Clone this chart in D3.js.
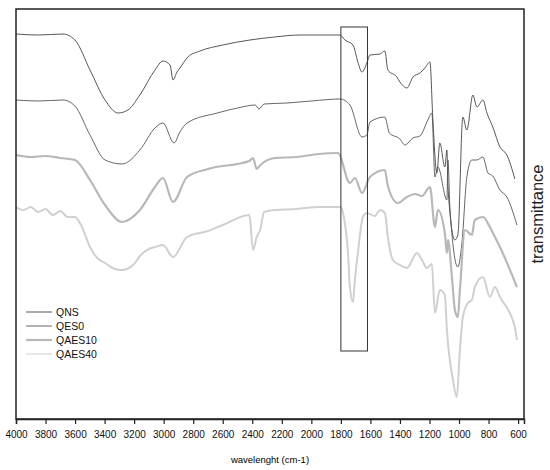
<!DOCTYPE html>
<html><head><meta charset="utf-8">
<script src="https://cdn.jsdelivr.net/npm/d3@7"></script>
<style>body{margin:0;background:#fff}svg{font-family:"Liberation Sans",Arial,sans-serif}</style>
</head><body><svg id="c" width="550" height="470"></svg>
<script>
// wavenumber (cm-1), transmittance (arbitrary units, offset spectra)
const seriesNames = ["QNS","QES0","QAES10","QAES40"];
const xTicks = d3.range(4000, 599, -200);
const qns = [[4000,385],[3850,384],[3682,385],[3601,379],[3499,349],[3397,319],[3309,306],[3242,309],[3161,324],[3059,349],[3005,358],[2957,354],[2937,339],[2910,347],[2890,351],[2836,362],[2754,368],[2600,374],[2416,379],[2250,382],[2077,384],[1950,384],[1806,384],[1773,379],[1718,374],[1685,357],[1657,347],[1624,356],[1603,364],[1536,365],[1502,368],[1482,349],[1421,342],[1400,337],[1353,331],[1312,342],[1265,346],[1231,351],[1197,357],[1177,299],[1150,246],[1130,276],[1096,252],[1082,269],[1075,232],[1028,179],[1008,184],[974,302],[947,289],[906,324],[879,312],[838,319],[811,306],[771,292],[723,272],[676,264],[622,240]];
const qes0 = [[4000,319],[3850,318],[3682,319],[3601,313],[3499,284],[3397,259],[3282,255],[3161,269],[3059,291],[3005,296],[2930,276],[2890,287],[2842,296],[2637,306],[2500,311],[2380,314],[2355,310],[2320,315],[2165,316],[2000,318],[1806,320],[1739,314],[1657,282],[1624,284],[1603,297],[1502,302],[1472,286],[1400,280],[1367,274],[1312,281],[1265,283],[1211,299],[1184,306],[1163,242],[1143,252],[1082,219],[1075,259],[1062,212],[1008,152],[981,175],[947,242],[913,259],[879,259],[838,262],[804,246],[771,243],[723,229],[676,222],[608,194]];
const qaes10 = [[4000,264],[3900,262],[3800,263],[3700,261],[3601,259],[3499,239],[3397,214],[3282,197],[3161,209],[3059,232],[3005,241],[2937,217],[2842,242],[2700,250],[2420,258],[2395,261],[2370,250],[2345,254],[2247,261],[2100,262],[1950,265],[1820,266],[1739,236],[1705,241],[1657,226],[1603,242],[1502,249],[1482,233],[1414,216],[1353,222],[1299,225],[1251,223],[1197,232],[1163,192],[1143,209],[1096,186],[1082,166],[1075,179],[1048,142],[1028,109],[1008,102],[994,129],[960,189],[913,184],[893,199],[838,202],[791,192],[757,182],[723,172],[608,132]];
const qaes40 = [[4000,212],[3950,209],[3900,212],[3850,207],[3800,210],[3750,204],[3700,208],[3650,202],[3601,202],[3560,194],[3499,172],[3450,161],[3397,156],[3330,150],[3282,149],[3200,155],[3161,163],[3100,170],[3059,172],[3005,174],[2937,162],[2842,182],[2700,188],[2600,194],[2420,204],[2395,169],[2370,182],[2345,190],[2320,207],[2247,209],[2100,210],[1950,212],[1820,212],[1800,212],[1780,202],[1752,166],[1739,132],[1718,117],[1705,139],[1685,166],[1651,202],[1624,206],[1570,203],[1536,209],[1502,206],[1482,182],[1448,159],[1400,154],[1353,151],[1285,166],[1251,159],[1218,151],[1184,155],[1163,106],[1130,129],[1096,124],[1082,89],[1041,39],[1015,22],[994,69],[974,102],[940,116],[913,119],[893,132],[838,142],[791,122],[757,132],[723,122],[622,92],[608,79]];
const boxRange = [[1800,1620],[392,68]];

const L=16, R=524, T=9, B=419;
const svg=d3.select("#c");
const x=d3.scaleLinear().domain([4000,560]).range([L,R]);
const y=d3.scaleLinear().domain([0,410]).range([B,T]);
const line=d3.line().x(d=>x(d[0])).y(d=>y(d[1])).curve(d3.curveMonotoneX);
const styles=[{c:"#444",w:0.9},{c:"#555",w:0.9},{c:"#b8b8b8",w:2.2},{c:"#d0d0d0",w:2}];
[qns,qes0,qaes10,qaes40].forEach((s,i)=>{
  svg.append("path").attr("d",line(s)).attr("fill","none").attr("stroke",styles[i].c).attr("stroke-width",styles[i].w);
});
svg.append("rect").attr("x",L).attr("y",T).attr("width",R-L).attr("height",B-T).attr("fill","none").attr("stroke","#222").attr("stroke-width",1.5);
svg.append("rect").attr("x",x(boxRange[0][0])).attr("y",y(boxRange[1][0]))
  .attr("width",x(boxRange[0][1])-x(boxRange[0][0])).attr("height",y(boxRange[1][1])-y(boxRange[1][0]))
  .attr("fill","none").attr("stroke","#333").attr("stroke-width",1);
const ax=svg.append("g").attr("transform",`translate(0,${B})`)
  .call(d3.axisBottom(x).tickValues(xTicks).tickFormat(d3.format("d")).tickSizeOuter(0).tickSize(5));
ax.select(".domain").attr("stroke","#222").attr("stroke-width",1.5);
ax.selectAll(".tick line").attr("stroke","#222").attr("stroke-width",1.2);
ax.selectAll("text").attr("font-size",10).attr("fill","#111").attr("dy","1.1em");
svg.append("text").attr("x",270).attr("y",463).attr("text-anchor","middle").attr("font-size",9.5).text("wavelenght (cm-1)");
svg.append("text").attr("transform","translate(543,214) rotate(-90)").attr("text-anchor","middle").attr("font-size",16.5).attr("fill","#222").text("transmittance");
seriesNames.forEach((n,i)=>{
  const yy=312+i*14;
  svg.append("line").attr("x1",26).attr("x2",52).attr("y1",yy).attr("y2",yy).attr("stroke",styles[i].c).attr("stroke-width",i==3?1:styles[i].w);
  svg.append("text").attr("x",56).attr("y",yy+4).attr("font-size",10.5).attr("fill","#111").text(n);
});
</script></body></html>
